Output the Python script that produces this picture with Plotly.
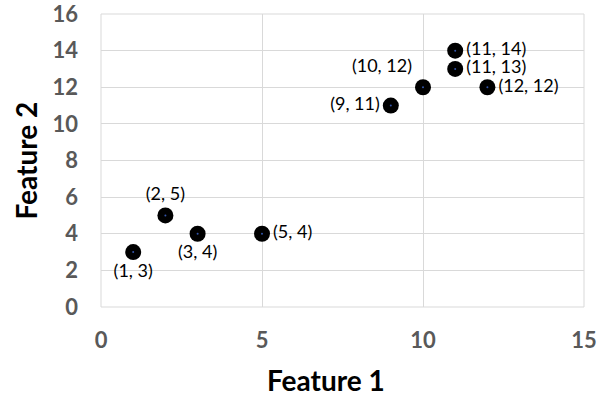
import plotly.graph_objects as go

feature1 = [1, 2, 3, 5, 9, 10, 11, 11, 12]
feature2 = [3, 5, 4, 4, 11, 12, 14, 13, 12]
labels = ["(1, 3)", "(2, 5)", "(3, 4)", "(5, 4)", "(9, 11)", "(10, 12)", "(11, 14)", "(11, 13)", "(12, 12)"]
label_pos = ["bottom center", "top center", "bottom center", "middle right", "middle left",
             "top left", "middle right", "middle right", "middle right"]
x_ticks = [0, 5, 10, 15]
y_ticks = [0, 2, 4, 6, 8, 10, 12, 14, 16]

font_family = "Lato, 'Open Sans', sans-serif"

fig = go.Figure()
fig.add_trace(go.Scatter(
    x=feature1, y=feature2, mode="markers+text",
    text=labels, textposition=label_pos,
    textfont=dict(family=font_family, size=18, color="#000000"),
    marker=dict(size=16, color="#000000", line=dict(width=0)),
    showlegend=False, cliponaxis=False,
))
fig.add_trace(go.Scatter(
    x=feature1, y=feature2, mode="markers",
    marker=dict(size=2, color="#3355aa"),
    showlegend=False, hoverinfo="skip",
))

fig.update_layout(
    width=600, height=398,
    margin=dict(l=101, r=16, t=14, b=91, autoexpand=False),
    paper_bgcolor="white", plot_bgcolor="white",
    font=dict(family=font_family),
)
fig.update_xaxes(
    range=[0, 15], tickvals=x_ticks, showgrid=True, gridcolor="#d9d9d9", gridwidth=1,
    zeroline=False, showline=False, automargin=False, ticklabeloverflow="allow",
    tickfont=dict(family=font_family, size=22, color="#595959", weight="bold"),
    ticklabelstandoff=18,
)
fig.update_yaxes(
    range=[0, 16], tickvals=y_ticks, showgrid=True, gridcolor="#d9d9d9", gridwidth=1,
    zeroline=False, showline=False, automargin=False, ticklabeloverflow="allow",
    tickfont=dict(family=font_family, size=22, color="#595959", weight="bold"),
    ticklabelstandoff=22,
)
fig.add_annotation(text="Feature 1", xref="paper", yref="paper", x=0.466, y=0,
                   yshift=-73, xanchor="center", yanchor="middle", showarrow=False,
                   font=dict(family=font_family, size=28, color="#000000", weight="bold"))
fig.add_annotation(text="Feature 2", xref="paper", yref="paper", x=0, y=0.5,
                   xshift=-76, xanchor="center", yanchor="middle", textangle=-90, showarrow=False,
                   font=dict(family=font_family, size=28, color="#000000", weight="bold"))
fig.add_shape(type="rect", xref="paper", yref="paper", x0=0, y0=0, x1=1, y1=1,
              line=dict(color="#d9d9d9", width=1), layer="below")

fig.write_html("out.html", config={"displayModeBar": False},
               post_script="document.body.style.margin='0';document.body.style.overflow='hidden';")
